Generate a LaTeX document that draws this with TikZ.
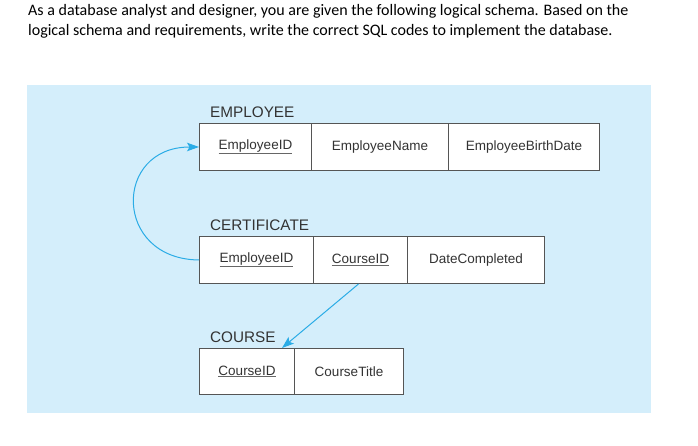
\documentclass[tikz,border=0pt]{standalone}
\usepackage{fontspec}
\setmainfont{Carlito}
\newfontfamily\diafont{Liberation Sans}
\usetikzlibrary{arrows.meta,calc}
\definecolor{bgblue}{HTML}{D4EEFB}
\definecolor{arrblue}{HTML}{2AACE6}
\definecolor{bordergray}{HTML}{555555}
\definecolor{txtgray}{HTML}{333333}
\definecolor{ulgray}{HTML}{666666}
\newcommand\pkey[1]{{\color{ulgray}\underline{\textcolor{txtgray}{#1}}}}
\begin{document}
\begin{tikzpicture}[x=1bp,y=-1bp,
  cell/.style={draw=bordergray, line width=1bp, fill=white, anchor=north west, inner sep=0pt,
     font=\diafont\fontsize{13.5bp}{15bp}\selectfont, text=txtgray, minimum height=47bp},
  tabhead/.style={anchor=base west, inner sep=0pt, font=\diafont\fontsize{15.3bp}{17bp}\selectfont, text=txtgray},
  para/.style={anchor=base west, inner sep=0pt, font=\fontsize{16bp}{19bp}\selectfont, text=black},
  link/.style={draw=arrblue, line width=1bp, -{Stealth[length=12bp,width=8.5bp,inset=2.5bp]}}]
\useasboundingbox (0,0) rectangle (698,446);
\fill[white] (0,0) rectangle (698,446);
\node[para] (l1) at (28,16) {As a database analyst and designer, you are given the following logical schema. Based on the};
\node[para] (l2) at (28,36) {logical schema and requirements, write the correct SQL codes to implement the database.};
\fill[bgblue] (27,85) rectangle (651,413);
% EMPLOYEE
\node[tabhead] (th1) at (210,118) {EMPLOYEE};
\node[cell, minimum width=112bp] (e1) at (199,123) {\pkey{EmployeeID}};
\node[cell, minimum width=137bp] (e2) at (311,123) {EmployeeName};
\node[cell, minimum width=151bp] (e3) at (448,123) {EmployeeBirthDate};
% CERTIFICATE
\node[tabhead] (th2) at (210,231) {CERTIFICATE};
\node[cell, minimum width=114bp] (c1) at (199,236) {\pkey{EmployeeID}};
\node[cell, minimum width=94bp] (c2) at (313,236) {\pkey{CourseID}};
\node[cell, minimum width=137bp] (c3) at (407,236) {DateCompleted};
% COURSE
\node[tabhead] (th3) at (210,343) {COURSE};
\node[cell, minimum width=95bp, minimum height=46bp] (k1) at (199,348) {\pkey{CourseID}};
\node[cell, minimum width=109bp, minimum height=46bp] (k2) at (294,348) {CourseTitle};
% connectors
\draw[link] (c1.west) .. controls (113,259) and (113,147) .. (e1.west);
\coordinate (kin) at ($(k1.north east)+(-13,0)$);
\draw[link] ($(c2.south)+(-2,0)$) -- (kin);
\end{tikzpicture}
\end{document}
